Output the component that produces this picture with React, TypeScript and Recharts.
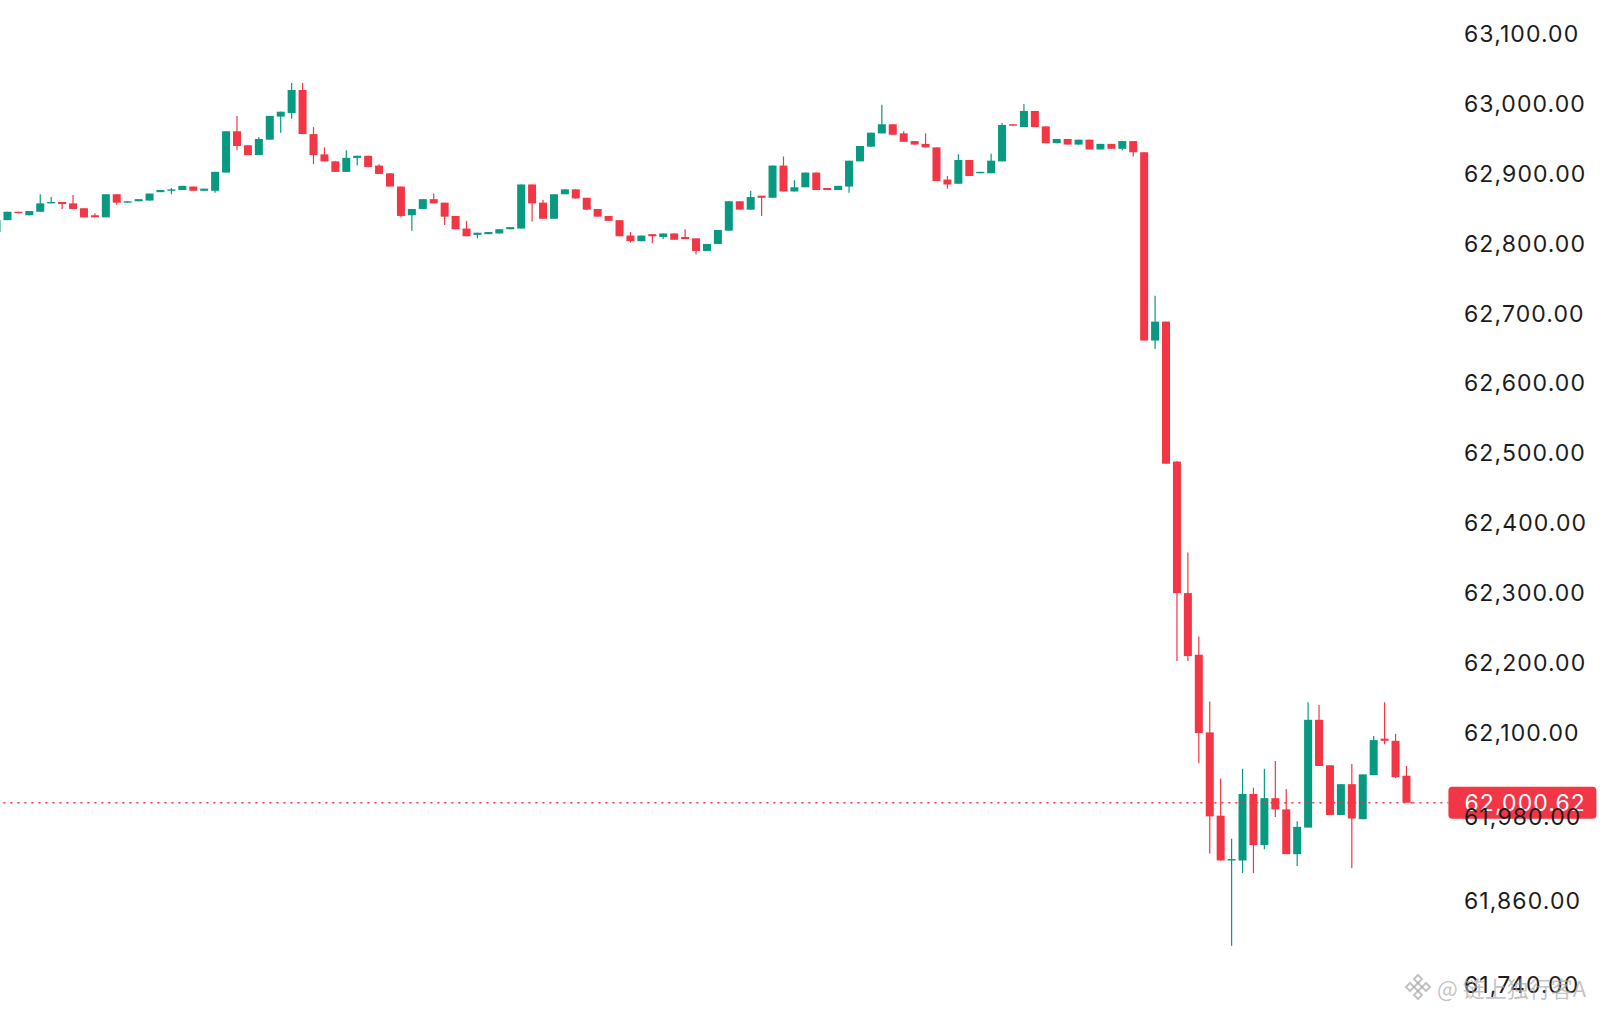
import React from 'react';
import { ComposedChart, Bar, XAxis, YAxis, ReferenceLine } from 'recharts';

// candle values, oldest first
const opens = [
  62816, 62833, 62845, 62840, 62845, 62857, 62859, 62857, 62850, 62840,
  62837, 62870, 62858, 62860, 62861, 62873, 62875, 62876, 62881, 62875,
  62875, 62901, 62960, 62940, 62926, 62948, 62981, 62986, 63019, 62956,
  62927, 62917, 62902, 62922, 62925, 62911, 62900, 62881, 62840, 62849,
  62863, 62858, 62839, 62821, 62812, 62813, 62814, 62820, 62821, 62884,
  62858, 62835, 62870, 62877, 62865, 62849, 62839, 62833, 62811, 62803,
  62813, 62809, 62814, 62809, 62807, 62789, 62799, 62818, 62860, 62848,
  62868, 62865, 62911, 62874, 62880, 62901, 62879, 62876, 62881, 62917,
  62938, 62957, 62970, 62957, 62946, 62942, 62937, 62891, 62885, 62919,
  62900, 62900, 62917, 62970, 62966, 62989, 62967, 62943, 62949, 62941,
  62948, 62934, 62942, 62935, 62946, 62930, 62661, 62688, 62488, 62300,
  62212, 62101, 61982, 61918, 61918, 62013, 61940, 62007, 61991, 61927,
  61965, 62119, 62054, 61983, 62027, 61977, 62040, 62092, 62089, 62039,
];
const closes = [
  62833, 62845, 62843, 62846, 62857, 62859, 62856, 62849, 62837, 62837,
  62870, 62858, 62860, 62863, 62871, 62876, 62877, 62882, 62875, 62878,
  62902, 62960, 62939, 62926, 62949, 62982, 62988, 63019, 62956, 62926,
  62917, 62902, 62922, 62925, 62909, 62899, 62881, 62839, 62849, 62863,
  62857, 62838, 62820, 62810, 62815, 62816, 62820, 62823, 62884, 62857,
  62835, 62870, 62877, 62864, 62848, 62838, 62832, 62810, 62803, 62811,
  62810, 62814, 62805, 62806, 62789, 62799, 62819, 62860, 62848, 62866,
  62865, 62911, 62874, 62880, 62901, 62876, 62876, 62882, 62918, 62939,
  62958, 62970, 62955, 62945, 62941, 62937, 62889, 62884, 62919, 62896,
  62902, 62918, 62969, 62968, 62989, 62966, 62943, 62949, 62941, 62948,
  62934, 62942, 62935, 62946, 62930, 62661, 62688, 62485, 62300, 62210,
  62100, 61981, 61918, 61920, 62013, 61940, 62007, 61991, 61927, 61966,
  62119, 62053, 61983, 62027, 61978, 62041, 62090, 62089, 62037, 62000.62,
];
const highs = [
  62833, 62845, 62845, 62846, 62870, 62866, 62859, 62869, 62850, 62843,
  62870, 62870, 62860, 62863, 62871, 62876, 62879, 62882, 62881, 62878,
  62902, 62960, 62982, 62940, 62952, 62982, 62988, 63029, 63029, 62966,
  62937, 62917, 62933, 62925, 62925, 62913, 62900, 62881, 62849, 62863,
  62871, 62858, 62839, 62832, 62815, 62816, 62820, 62823, 62884, 62884,
  62862, 62870, 62877, 62877, 62865, 62849, 62839, 62833, 62816, 62811,
  62813, 62814, 62814, 62820, 62807, 62799, 62819, 62860, 62860, 62875,
  62868, 62911, 62924, 62890, 62901, 62901, 62879, 62882, 62918, 62939,
  62958, 62998, 62970, 62960, 62946, 62957, 62937, 62896, 62927, 62919,
  62902, 62928, 62972, 62970, 62999, 62989, 62967, 62949, 62949, 62948,
  62948, 62942, 62942, 62946, 62946, 62930, 62725, 62688, 62489, 62358,
  62238, 62145, 62035, 61949, 62049, 62022, 62049, 62060, 62020, 61974,
  62144, 62140, 62054, 62027, 62056, 62041, 62096, 62144, 62099, 62053,
];
const lows = [
  62816, 62833, 62843, 62840, 62845, 62857, 62849, 62849, 62837, 62837,
  62837, 62855, 62858, 62860, 62861, 62873, 62870, 62876, 62875, 62875,
  62872, 62901, 62933, 62926, 62926, 62948, 62958, 62978, 62956, 62913,
  62917, 62902, 62902, 62911, 62909, 62899, 62881, 62837, 62818, 62849,
  62857, 62826, 62820, 62810, 62807, 62813, 62814, 62820, 62821, 62831,
  62835, 62835, 62870, 62864, 62848, 62838, 62832, 62810, 62801, 62803,
  62800, 62806, 62805, 62806, 62784, 62789, 62799, 62818, 62848, 62848,
  62839, 62865, 62874, 62874, 62880, 62876, 62876, 62876, 62872, 62917,
  62938, 62957, 62955, 62945, 62941, 62937, 62889, 62878, 62885, 62896,
  62900, 62900, 62917, 62968, 62966, 62966, 62943, 62943, 62941, 62941,
  62934, 62934, 62935, 62933, 62924, 62661, 62649, 62485, 62203, 62203,
  62057, 61928, 61918, 61796, 61900, 61900, 61934, 61980, 61927, 61910,
  61965, 62053, 61983, 61983, 61907, 61977, 62040, 62084, 62036, 62000.62,
];

const priceTicks = [
  63100, 63000, 62900, 62800, 62700, 62600, 62500, 62400, 62300, 62200, 62100,
  61980, 61860, 61740,
];
const lastPrice = 62000.62;

const UP = '#089981';
const DOWN = '#F23645';
const FONT = 'Inter, "Noto Sans", sans-serif';

const data = opens.map((o, i) => ({
  i,
  open: o,
  close: closes[i],
  high: highs[i],
  low: lows[i],
}));

const fmt = (v: number) =>
  v.toLocaleString('en-US', { minimumFractionDigits: 2, maximumFractionDigits: 2 });

function Candle(props: any) {
  const { x, y, width, height, payload } = props;
  if (!payload) return null;
  const top = Math.min(y, y + height);
  const h = Math.abs(height);
  const { open, close, high, low } = payload;
  const ratio = h / (high - low || 1);
  const up = close >= open;
  const color = up ? UP : DOWN;
  const bodyTop = top + (high - Math.max(open, close)) * ratio;
  const bodyH = Math.max(1, Math.abs(open - close) * ratio);
  const cx = x + width / 2;
  return (
    <g>
      <line x1={cx} x2={cx} y1={top} y2={top + h} stroke={color} strokeWidth={1.2} />
      <rect x={x} y={bodyTop} width={width} height={bodyH} fill={color} />
    </g>
  );
}

function PriceTick(props: any) {
  const { x, y, payload } = props;
  return (
    <text
      x={x}
      y={y}
      dy="0.36em"
      textAnchor="start"
      fill="#1c1c1e"
      fontSize={23}
      letterSpacing={1.1}
      fontFamily={FONT}
    >
      {fmt(payload.value)}
    </text>
  );
}

function PriceTag(props: any) {
  const vb = props.viewBox || {};
  const right = vb.x + vb.width;
  const y = vb.y;
  return (
    <g>
      <line x1={right} x2={right + 36} y1={y} y2={y} stroke={DOWN} strokeWidth={1.5} strokeDasharray="2 5" />
      <rect x={right + 36} y={y - 16} width={148} height={32} rx={4} fill={DOWN} />
      <text
        x={right + 52}
        y={y}
        dy="0.36em"
        fill="#ffffff"
        fontSize={23}
        letterSpacing={1.1}
        fontFamily={FONT}
      >
        {fmt(lastPrice)}
      </text>
    </g>
  );
}

export default function App() {
  return (
    <div style={{ position: 'absolute', left: 0, top: 0, width: 1604, height: 1010, background: '#fff' }}>
      <ComposedChart
        width={1604}
        height={1010}
        data={data}
        margin={{ top: 0, right: 0, bottom: 0, left: -8.47 }}
      >
        <XAxis dataKey="i" hide />
        <YAxis
          orientation="right"
          width={191.6}
          domain={[61704.3, 63147.6]}
          allowDataOverflow
          ticks={priceTicks}
          interval={0}
          axisLine={false}
          tickLine={false}
          tickSize={0}
          tickMargin={51.6}
          tick={<PriceTick />}
        />
        <ReferenceLine
          y={lastPrice}
          stroke={DOWN}
          strokeWidth={1.5}
          strokeDasharray="2 5"
          ifOverflow="visible"
          label={<PriceTag />}
        />
        <Bar
          dataKey={(d: any) => [d.low, d.high]}
          barSize={8}
          shape={<Candle />}
          isAnimationActive={false}
        />
      </ComposedChart>
      <div
        style={{
          position: 'absolute',
          left: 1403,
          top: 972,
          display: 'flex',
          alignItems: 'center',
          gap: 4,
          color: 'rgba(170,170,170,0.7)',
          fontSize: 22,
          lineHeight: '30px',
          fontFamily: '"Noto Sans CJK SC", sans-serif',
          pointerEvents: 'none',
        }}
      >
        <svg width={30} height={30} viewBox="0 0 30 30">
          <g fill="none" stroke="rgba(170,170,170,0.7)" strokeWidth={2}>
            <path d="M15 3 L19 7 L15 11 L11 7 Z" />
            <path d="M7 11 L11 15 L7 19 L3 15 Z" />
            <path d="M23 11 L27 15 L23 19 L19 15 Z" />
            <path d="M15 11 L19 15 L15 19 L11 15 Z" />
            <path d="M15 19 L19 23 L15 27 L11 23 Z" />
          </g>
        </svg>
        <span>@ 链上独行客A</span>
      </div>
    </div>
  );
}
